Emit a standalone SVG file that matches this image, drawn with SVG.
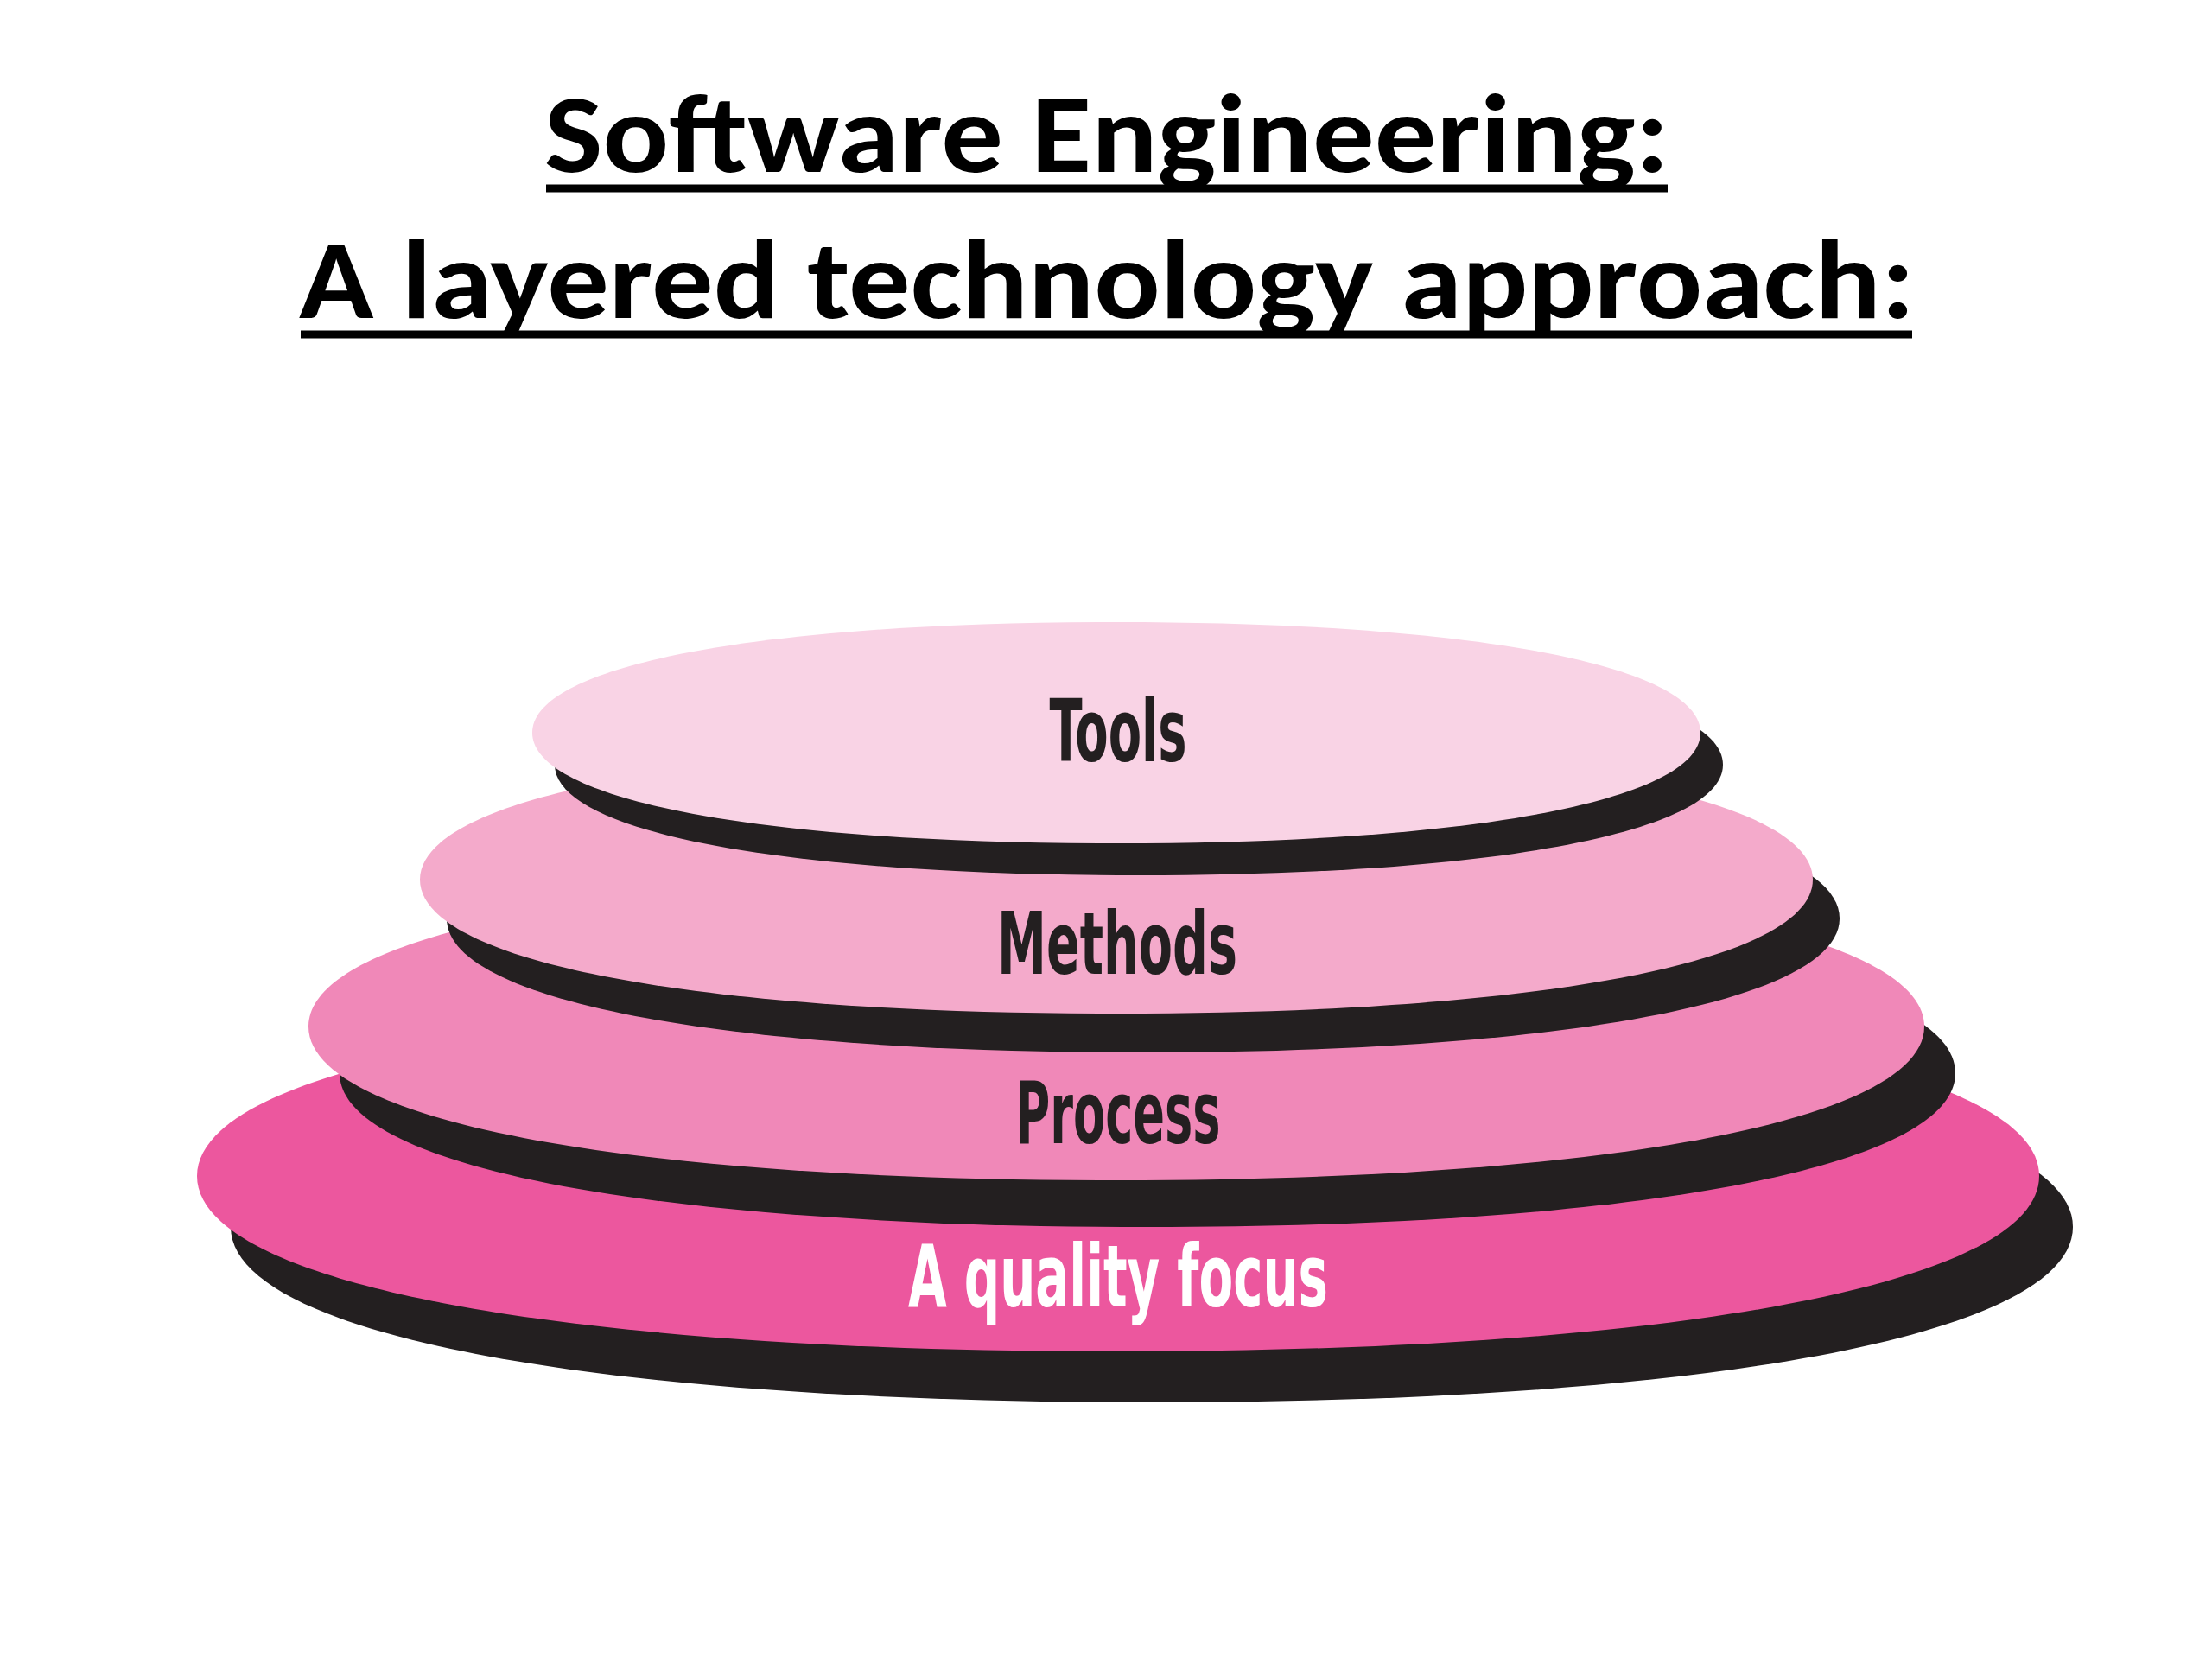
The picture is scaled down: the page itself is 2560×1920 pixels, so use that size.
<svg xmlns="http://www.w3.org/2000/svg" width="2560" height="1920" viewBox="0 0 2560 1920">
<style>
.title{font-family:"Carlito","Lato","Liberation Sans",sans-serif;font-weight:bold;font-size:130px;fill:#000}
.ul{stroke:#000;stroke-width:9}
.shadow{fill:#231F20}
.lbl{font-family:"Liberation Sans Narrow","DejaVu Sans Condensed","Liberation Sans",sans-serif;font-weight:bold;font-size:100px;fill:#231F20}
.lbl.white{fill:#FFFFFF}
</style>
<rect width="2560" height="1920" fill="#FFFFFF"/>
<g id="title">
<text class="title" x="1281" y="199" text-anchor="middle" textLength="1302" lengthAdjust="spacingAndGlyphs">Software Engineering:</text>
<line class="ul" x1="632" y1="218" x2="1930" y2="218"/>
<text class="title" x="1281" y="368" text-anchor="middle" textLength="1870" lengthAdjust="spacingAndGlyphs">A layered technology approach:</text>
<line class="ul" x1="348" y1="387" x2="2213" y2="387"/>
</g>
<g id="connectors"></g>
<g id="layer-quality">
<path class="shadow" d="M267,1420 C267,1296.2 682.7,1217 1333,1217 C1983.3,1217 2399,1296.2 2399,1420 C2399,1543.8 1983.3,1623 1333,1623 C682.7,1623 267,1543.8 267,1420Z"/>
<path fill="#EC579E" d="M228,1361 C228,1237.2 643.7,1158 1294,1158 C1944.3,1158 2360,1237.2 2360,1361 C2360,1484.8 1944.3,1564 1294,1564 C643.7,1564 228,1484.8 228,1361Z"/>
<text class="lbl white" x="1294" y="1512" text-anchor="middle" textLength="486" lengthAdjust="spacingAndGlyphs">A quality focus</text>
</g>
<g id="layer-process">
<path class="shadow" d="M393,1242 C393,1133.4 757.6,1064 1328,1064 C1898.4,1064 2263,1133.4 2263,1242 C2263,1350.6 1898.4,1420 1328,1420 C757.6,1420 393,1350.6 393,1242Z"/>
<path fill="#F088B8" d="M357,1188 C357,1079.4 721.6,1010 1292,1010 C1862.4,1010 2227,1079.4 2227,1188 C2227,1296.6 1862.4,1366 1292,1366 C721.6,1366 357,1296.6 357,1188Z"/>
<text class="lbl" x="1294" y="1323" text-anchor="middle" textLength="237" lengthAdjust="spacingAndGlyphs">Process</text>
</g>
<g id="layer-methods">
<path class="shadow" d="M517,1063 C517,968.4 831.3,908 1323,908 C1814.7,908 2129,968.4 2129,1063 C2129,1157.6 1814.7,1218 1323,1218 C831.3,1218 517,1157.6 517,1063Z"/>
<path fill="#F4AACB" d="M486,1018 C486,923.4 800.3,863 1292,863 C1783.7,863 2098,923.4 2098,1018 C2098,1112.6 1783.7,1173 1292,1173 C800.3,1173 486,1112.6 486,1018Z"/>
<text class="lbl" x="1293" y="1127" text-anchor="middle" textLength="278" lengthAdjust="spacingAndGlyphs">Methods</text>
</g>
<g id="layer-tools">
<path class="shadow" d="M642,885 C642,806.9 905.6,757 1318,757 C1730.4,757 1994,806.9 1994,885 C1994,963.1 1730.4,1013 1318,1013 C905.6,1013 642,963.1 642,885Z"/>
<path fill="#F9D3E5" d="M616,848 C616,769.9 879.6,720 1292,720 C1704.4,720 1968,769.9 1968,848 C1968,926.1 1704.4,976 1292,976 C879.6,976 616,926.1 616,848Z"/>
<text class="lbl" x="1294" y="881" text-anchor="middle" textLength="159" lengthAdjust="spacingAndGlyphs">Tools</text>
</g>
</svg>
